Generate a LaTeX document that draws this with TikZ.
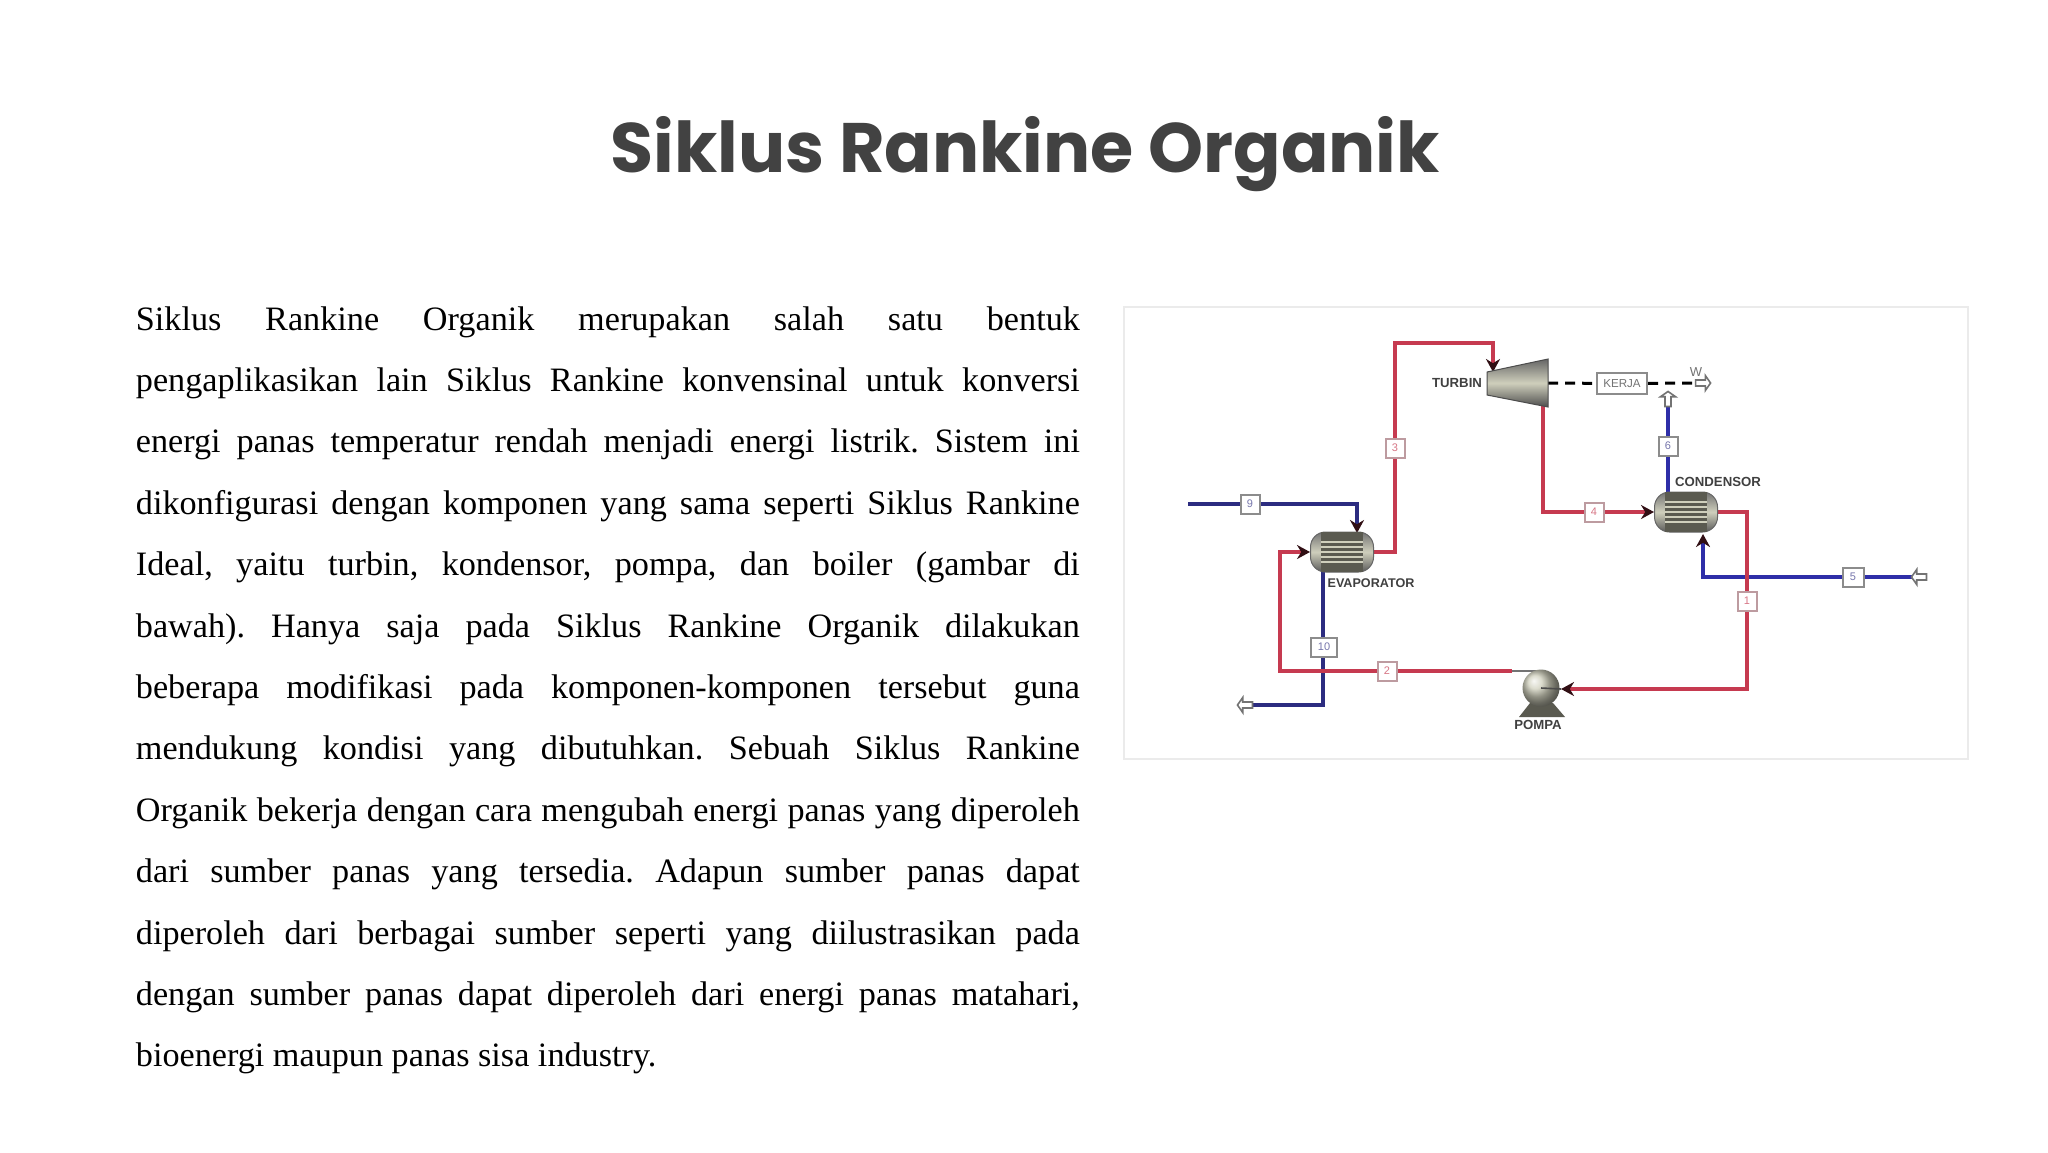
\documentclass[tikz,border=0pt]{standalone}
\usepackage{fontspec}
\setmainfont{Liberation Serif}
\newfontfamily\titlefont{Poppins}
\newfontfamily\labelfont{Liberation Sans}
\usepackage{tikz}
\usetikzlibrary{shapes}
\usetikzlibrary{shapes.geometric}
\usetikzlibrary{arrows.meta}
\pgfdeclarelayer{edgelayer}
\pgfdeclarelayer{nodelayer}
\pgfsetlayers{edgelayer,nodelayer,main}
\definecolor{hotline}{HTML}{C63A50}
\definecolor{coldline}{HTML}{2C2C80}
\definecolor{waterline}{HTML}{2E2EA8}
\definecolor{metal}{HTML}{CFCFBC}
\definecolor{metaldark}{HTML}{5A5A50}
\tikzstyle{none}=[inner sep=0pt]
\tikzstyle{hot}=[draw=hotline,line width=2pt]
\tikzstyle{cold}=[draw=coldline,line width=2pt]
\tikzstyle{water}=[draw=waterline,line width=2pt]
\tikzstyle{work}=[draw=black,line width=1.5pt,dash pattern=on 5pt off 3.5pt]
\tikzstyle{frame}=[draw=black!8,line width=1pt,fill=white,minimum width=422pt,minimum height=226pt]
\tikzstyle{stream}=[draw=black!45,line width=1pt,fill=white,inner sep=0pt,minimum width=9.5pt,minimum height=9.5pt,font=\labelfont\fontsize{5.5}{5.5}\selectfont]
\tikzstyle{hotbox}=[style=stream,draw=hotline!55!black!45,text=hotline!70]
\tikzstyle{coldbox}=[style=stream,text=coldline!65]
\tikzstyle{tag}=[inner sep=0pt,text=black!75,font=\labelfont\bfseries\fontsize{6.6}{6.6}\selectfont]
\tikzstyle{shell}=[draw=black!60,line width=.5pt,rounded corners=7.5pt,top color=black!55,bottom color=black!65,middle color=metal,minimum width=31.5pt,minimum height=20pt,inner sep=0pt]
\tikzstyle{tubes}=[fill=metaldark,inner sep=0pt,minimum width=21pt,minimum height=20pt]
\tikzstyle{port}=[draw=black!55,line width=.8pt,fill=white,shape=single arrow,inner sep=0pt,minimum width=7.5pt,minimum height=7.5pt,single arrow head extend=.6pt,single arrow tip angle=110]
\tikzset{>={Stealth[length=6.5pt,width=7pt,color=black!75!hotline]}}

\begin{document}
\begin{tikzpicture}[x=0.5pt,y=-0.5pt]
	\useasboundingbox (0, 0) rectangle (2048, 1152);
	\begin{pgfonlayer}{nodelayer}
		\node [style=none,text=black!74,font=\titlefont\bfseries\fontsize{35}{35}\selectfont] (0) at (1025, 154) {Siklus Rankine Organik};
		\node [style=none,anchor=north west,text width=472pt,align=justify,font=\fontsize{17.1}{30.7}\selectfont\frenchspacing] (1) at (135.5, 306) {Siklus Rankine Organik merupakan salah satu bentuk\linebreak
pengaplikasikan lain Siklus Rankine konvensinal untuk konversi\linebreak
energi panas temperatur rendah menjadi energi listrik. Sistem ini\linebreak
dikonfigurasi dengan komponen yang sama seperti Siklus Rankine\linebreak
Ideal, yaitu turbin, kondensor, pompa, dan boiler (gambar di\linebreak
bawah). Hanya saja pada Siklus Rankine Organik dilakukan\linebreak
beberapa modifikasi pada komponen-komponen tersebut guna\linebreak
mendukung kondisi yang dibutuhkan. Sebuah Siklus Rankine\linebreak
Organik bekerja dengan cara mengubah energi panas yang diperoleh\linebreak
dari sumber panas yang tersedia. Adapun sumber panas dapat\linebreak
diperoleh dari berbagai sumber seperti yang diilustrasikan pada\linebreak
dengan sumber panas dapat diperoleh dari energi panas matahari,\linebreak
bioenergi maupun panas sisa industry.};
		\node [style=shell] (2) at (1342, 552) {};
		\node [style=tubes] (3) at (1342, 552) {};
		\node [style=shell] (4) at (1686, 512) {};
		\node [style=tubes] (5) at (1686, 512) {};
		\fill [metaldark] (1530, 703) to (1553, 703) to (1565, 717) to (1519, 717) to cycle;
		\node [style=none,shape=circle,ball color=metal,minimum size=18.5pt] (7) at (1541, 688) {};
		\node [style=hotbox] (8) at (1395, 448) {3};
		\node [style=hotbox] (9) at (1387, 671) {2};
		\node [style=hotbox] (10) at (1594, 512) {4};
		\node [style=hotbox] (11) at (1747, 601) {1};
		\node [style=coldbox] (12) at (1250, 504) {9};
		\node [style=coldbox,minimum width=13pt] (13) at (1324, 647) {10};
		\node [style=coldbox] (14) at (1668, 446) {6};
		\node [style=coldbox,minimum width=10.5pt] (15) at (1853, 577) {5};
		\node [style=stream,minimum width=25pt,minimum height=10.5pt,text=black!55,font=\labelfont\fontsize{5.8}{5.8}\selectfont] (16) at (1622, 383.5) {KERJA};
		\node [style=tag] (17) at (1457, 383) {TURBIN};
		\node [style=tag,font=\labelfont\bfseries\fontsize{6.3}{6.3}\selectfont] (18) at (1371, 583) {EVAPORATOR};
		\node [style=tag] (19) at (1718, 482) {CONDENSOR};
		\node [style=tag] (20) at (1538, 725) {POMPA};
		\node [style=none,text=black!55,font=\labelfont\fontsize{6.5}{6.5}\selectfont] (21) at (1696, 372) {W};
		\node [style=port,shape border rotate=180] (22) at (1246, 705) {};
		\node [style=port,shape border rotate=90] (23) at (1668, 400) {};
		\node [style=port,shape border rotate=180] (24) at (1920, 577) {};
		\node [style=port] (25) at (1702, 383) {};
		\node [style=none] (26) at (1373, 552) {};
		\node [style=none] (27) at (1395, 552) {};
		\node [style=none] (28) at (1395, 343) {};
		\node [style=none] (29) at (1493, 343) {};
		\node [style=none] (30) at (1493, 372) {};
		\node [style=none] (31) at (1543, 405) {};
		\node [style=none] (32) at (1543, 512) {};
		\node [style=none] (33) at (1654, 512) {};
		\node [style=none] (34) at (1718, 512) {};
		\node [style=none] (35) at (1747, 512) {};
		\node [style=none] (36) at (1747, 689) {};
		\node [style=none] (37) at (1561, 689) {};
		\node [style=none] (38) at (1512, 671) {};
		\node [style=none] (39) at (1280, 671) {};
		\node [style=none] (40) at (1280, 552) {};
		\node [style=none] (41) at (1310, 552) {};
		\node [style=none] (42) at (1188, 504) {};
		\node [style=none] (43) at (1357, 504) {};
		\node [style=none] (44) at (1357, 533) {};
		\node [style=none] (45) at (1323, 572) {};
		\node [style=none] (46) at (1323, 705) {};
		\node [style=none] (47) at (1668, 492) {};
		\node [style=none] (48) at (1703, 577) {};
		\node [style=none] (49) at (1703, 534) {};
		\node [style=none] (50) at (1548, 383) {};
		\node [style=none] (51) at (1541, 671) {};
		\node [style=none] (52) at (1541, 688) {};
		\node [style=none] (53) at (1487, 372) {};
		\node [style=none] (54) at (1548, 359) {};
		\node [style=none] (55) at (1548, 407) {};
		\node [style=none] (56) at (1487, 395) {};
	\end{pgfonlayer}
	\begin{pgfonlayer}{edgelayer}
		\node [style=frame] (57) at (1546, 533) {};
		\draw [style=cold,->](42.center) to (43.center) to (44.center);
		\draw [style=cold](45.center) to (46.center) to (22.center);
		\draw [style=water](47.center) to (23.center);
		\draw [style=water,->](24.center) to (48.center) to (49.center);
		\draw [style=hot,->](26.center) to (27.center) to (28.center) to (29.center) to (30.center);
		\draw [style=hot,->](31.center) to (32.center) to (33.center);
		\draw [style=hot,->](34.center) to (35.center) to (36.center) to (37.center);
		\draw [style=hot,->](38.center) to (39.center) to (40.center) to (41.center);
		\draw [draw=black!55,line width=.8pt](38.center) to (51.center);
		\draw [style=work](50.center) to (16);
		\draw [style=work](16) to (25);
	\end{pgfonlayer}
	\draw [draw=black!70,line width=.5pt,top color=black!60,bottom color=black!70,middle color=metal](53.center) to (54.center) to (55.center) to (56.center) to cycle;
	\draw [draw=black!70,line width=.8pt](52.center) to (37.center);
	\foreach \y in {-5,-2.5,0,2.5,5} {
		\draw [draw=metal,line width=.7pt] ([yshift=\y pt]3.west) to ([yshift=\y pt]3.east);
		\draw [draw=metal,line width=.7pt] ([yshift=\y pt]5.west) to ([yshift=\y pt]5.east);
	}
\end{tikzpicture}
\end{document}
